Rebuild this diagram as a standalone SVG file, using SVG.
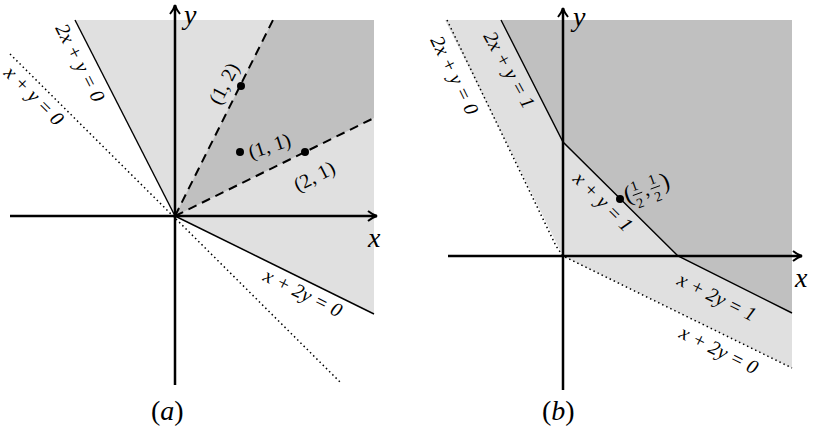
<svg xmlns="http://www.w3.org/2000/svg" width="814" height="430" viewBox="0 0 814 430">
<style>
text{font-family:"Liberation Serif","DejaVu Serif",serif;font-size:20px;fill:#000}
.it{font-style:italic}
.big{font-size:28px}
.sm{font-size:14px}
.ax{stroke:#000;stroke-width:2.5;fill:none}
.ln{stroke:#000;stroke-width:1.4;fill:none}
.dash{stroke:#000;stroke-width:2;stroke-dasharray:9,6;fill:none}
.dot{stroke:#000;stroke-width:1.5;stroke-dasharray:1.5,3;fill:none}
.lt{fill:#e0e0e0}.dk{fill:#c0c0c0}
</style>
<defs><marker id="ar" markerWidth="12" markerHeight="12" refX="10" refY="6" orient="auto" markerUnits="userSpaceOnUse"><path d="M1,1 Q6,5 10,6 Q6,7 1,11" fill="none" stroke="#000" stroke-width="2"/></marker></defs>
<g id="panel-a">
<polygon class="lt" points="75,20 374,20 374,314 175,216"/>
<polygon class="dk" points="175,216 273,20 374,20 374,118"/>
<line class="ln" x1="75" y1="20" x2="175" y2="216"/>
<line class="ln" x1="175" y1="216" x2="374" y2="314"/>
<line class="dot" x1="10" y1="54" x2="341" y2="383"/>
<line class="dash" x1="175" y1="216" x2="273" y2="20"/>
<line class="dash" x1="175" y1="216" x2="374" y2="118"/>
<line class="ax" x1="10" y1="216" x2="377" y2="216" marker-end="url(#ar)"/>
<line class="ax" x1="175" y1="385" x2="175" y2="5" marker-end="url(#ar)"/>
<text class="it big" x="368" y="247">x</text>
<text class="it big" x="184" y="24">y</text>
<circle cx="241" cy="86" r="4"/><circle cx="240" cy="152" r="4"/><circle cx="305" cy="152" r="4"/>
<text transform="translate(220,106) rotate(-63)">(1, 2)</text>
<text transform="translate(251,159) rotate(-18)">(1, 1)</text>
<text transform="translate(298,192) rotate(-27)">(2, 1)</text>
<text class="it" transform="translate(55,28) rotate(63)">2x + y = 0</text>
<text class="it" transform="translate(3,74) rotate(45)">x + y = 0</text>
<text class="it" transform="translate(262,280) rotate(26.5)">x + 2y = 0</text>
<text class="big" x="151" y="420">(<tspan class="it">a</tspan>)</text>
</g>
<g id="panel-b">
<polygon class="lt" points="445,20 792,20 792,368 563,256"/>
<polygon class="dk" points="501,20 792,20 792,313 678,256 563,142"/>
<polyline class="ln" points="501,20 563,142 678,256 792,313"/>
<polyline class="dot" points="447,20 556,246 563,256 792,368"/>
<line class="ax" x1="448" y1="256" x2="802" y2="256" marker-end="url(#ar)"/>
<line class="ax" x1="563" y1="390" x2="563" y2="8" marker-end="url(#ar)"/>
<text class="it big" x="795" y="287">x</text>
<text class="it big" x="573" y="26">y</text>
<circle cx="620" cy="199" r="4"/>
<text class="it" transform="translate(483,36) rotate(61)">2x + y = 1</text>
<text class="it" transform="translate(430,40) rotate(64)">2x + y = 0</text>
<text class="it" transform="translate(572,180) rotate(45)">x + y = 1</text>
<text class="it" transform="translate(676,284) rotate(26.5)">x + 2y = 1</text>
<text class="it" transform="translate(678,337) rotate(26.5)">x + 2y = 0</text>
<g transform="translate(627,203) rotate(-20)">
<text x="0" y="0" style="font-size:24px">(</text>
<text class="sm" x="9" y="-9">1</text><line x1="8" y1="-5" x2="18" y2="-5" stroke="#000" stroke-width="0.9"/><text class="sm" x="9" y="9">2</text>
<text x="20" y="0">,</text>
<text class="sm" x="28" y="-9">1</text><line x1="27" y1="-5" x2="37" y2="-5" stroke="#000" stroke-width="0.9"/><text class="sm" x="28" y="9">2</text>
<text x="39" y="0" style="font-size:24px">)</text>
</g>
<text class="big" x="542" y="420">(<tspan class="it">b</tspan>)</text>
</g>
</svg>
